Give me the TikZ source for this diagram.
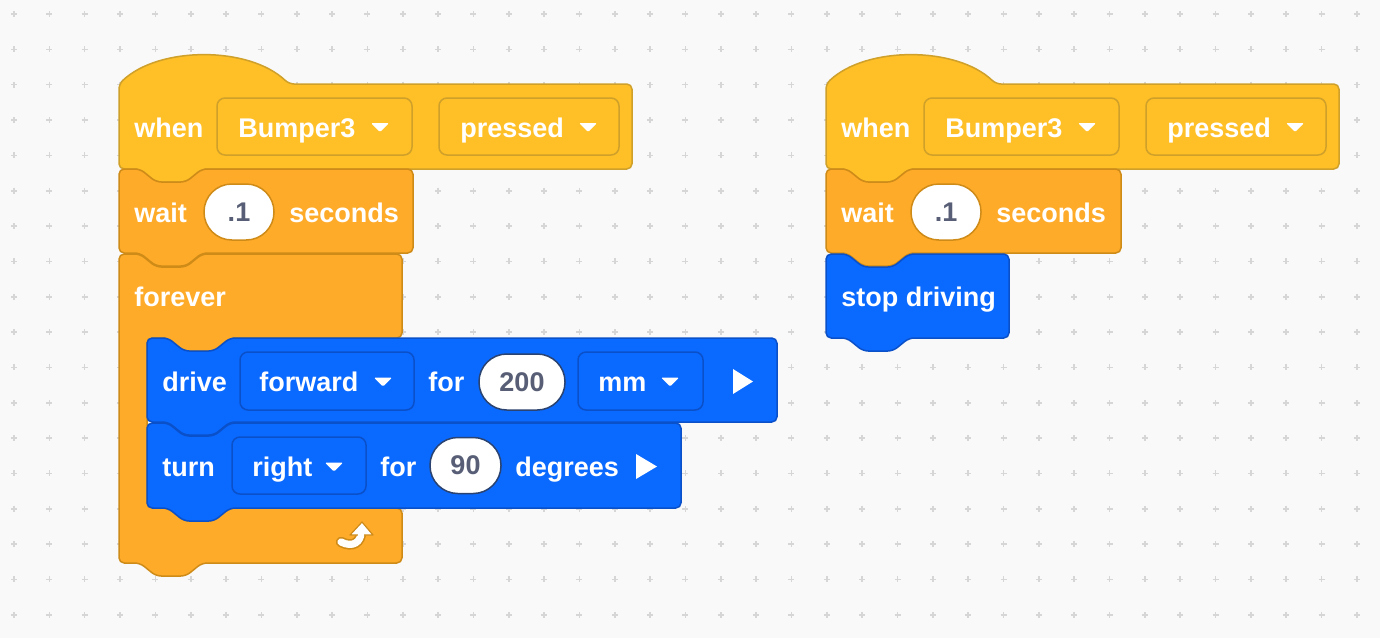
\documentclass[tikz,border=0pt]{standalone}
\usepackage{fontspec}
\setmainfont{Liberation Sans}
\definecolor{bg}{HTML}{F9F9F9}
\definecolor{gridc}{HTML}{D6D6D6}
\definecolor{hatY}{HTML}{FFBF26}
\definecolor{hatB}{HTML}{CFA02A}
\definecolor{ctlO}{HTML}{FFAB2A}
\definecolor{ctlB}{HTML}{CF8B17}
\definecolor{drvB}{HTML}{0A69FF}
\definecolor{drvD}{HTML}{0A50C8}
\definecolor{ovalD}{HTML}{2A4370}
\definecolor{numc}{HTML}{575E75}
\tikzset{
  hatblk/.style={fill=hatY, draw=hatB, line width=0.75pt, rounded corners=2.6pt},
  ctrlblk/.style={fill=ctlO, draw=ctlB, line width=0.75pt, rounded corners=2.6pt},
  drvblk/.style={fill=drvB, draw=drvD, line width=0.75pt, rounded corners=2.6pt},
  lbl/.style={anchor=base west, inner sep=0pt, text=white, font=\fontsize{13.5}{16}\selectfont\bfseries},
  numtxt/.style={text=numc, font=\fontsize{13.5}{16}\selectfont\bfseries},
  ddhat/.style={draw=hatB, fill=hatY, line width=0.75pt, rounded corners=4pt, inner sep=0pt, minimum height=28.5pt},
  dddrv/.style={draw=drvD, fill=drvB, line width=0.75pt, rounded corners=4pt, inner sep=0pt, minimum height=28.5pt},
  ovalc/.style={draw=ctlB, fill=white, line width=0.75pt, rounded corners=13.9pt, inner sep=0pt, minimum height=28pt, numtxt},
  ovald/.style={draw=ovalD, fill=white, line width=0.75pt, rounded corners=13.9pt, inner sep=0pt, minimum height=28pt, numtxt},
  ddarrow/.style={fill=white, rounded corners=0.6pt},
  playtri/.style={fill=white}
}
\newcommand\stackblk[5]{%
  \draw[#1] (#2,{(#3+#5)/2}) -- (#2,#3) -- ({#2+21},#3) -- ({#2+37},{#3+13}) -- ({#2+67},{#3+13}) -- ({#2+83},#3)
    -- (#4,#3) -- (#4,#5) -- ({#2+83},#5) -- ({#2+67},{#5+13}) -- ({#2+37},{#5+13}) -- ({#2+21},#5) -- (#2,#5) -- cycle;}
\newcommand\hatblk[3]{% L, R, B
  \draw[hatblk] (#1,126) -- (#1,84) .. controls ({#1+40},46) and ({#1+130},46) .. ({#1+170},84)
    -- (#2,84) -- (#2,#3) -- ({#1+83},#3) -- ({#1+67},{#3+13}) -- ({#1+37},{#3+13}) -- ({#1+21},#3) -- (#1,#3) -- cycle;}
\newcommand\ddarr[2]{\fill[ddarrow] ({#1-9},{#2-4.5}) -- ({#1+9},{#2-4.5}) -- (#1,{#2+4.5}) -- cycle;}
\begin{document}
\begin{tikzpicture}[x=0.5pt,y=-0.5pt]
\useasboundingbox (0,0) rectangle (1380,638);
\fill[bg] (0,0) rectangle (1380,638);
% grid of plus marks
\foreach \i in {0,...,38}{
  \foreach \j in {0,...,17}{
    \draw[gridc, line width=0.8pt] ({14+35.34*\i-3},{14+35.34*\j}) -- ({14+35.34*\i+3},{14+35.34*\j})
      ({14+35.34*\i},{14+35.34*\j-3}) -- ({14+35.34*\i},{14+35.34*\j+3});
  }
}

% ===== left script =====
\hatblk{119}{632}{169}
\node[ddhat, minimum width=97.5pt] (dd1) at (314.5,126.5) {};
\node[ddhat, minimum width=90pt] (dd2) at (529,126.5) {};
\node[lbl] (t1) at (134,137) {when};
\node[lbl] (t2) at (238,137) {Bumper3};
\ddarr{380}{127.5}
\node[lbl] (t3) at (460,137) {pressed};
\ddarr{588}{127.5}

\stackblk{ctrlblk}{119}{169}{413}{253}
\node[lbl] (t4) at (134,222) {wait};
\node[ovalc, minimum width=35pt] (o1) at (239,212) {.1};
\node[lbl] (t5) at (289,222) {seconds};

% forever C-block
\draw[ctrlblk] (119,400) -- (119,254) -- (140,254) -- (156,267) -- (186,267) -- (202,254) -- (402,254)
  -- (402,338) -- (230,338) -- (214,351) -- (184,351) -- (168,338) -- (147,338)
  -- (147,508) -- (168,508) -- (184,521) -- (214,521) -- (230,508) -- (402,508)
  -- (402,563) -- (202,563) -- (186,576) -- (156,576) -- (140,563) -- (119,563) -- cycle;
\node[lbl] (t6) at (134,306) {forever};
% loop arrow
\draw[ctlB, line width=5.2pt, line cap=round] (341,542) .. controls (353,548) and (361,542) .. (361,532);
\draw[white, line width=3.6pt, line cap=round] (341,542) .. controls (353,548) and (361,542) .. (361,532);
\draw[fill=white, draw=ctlB, line width=0.6pt, line join=round] (350,535) -- (362,522) -- (373,535) -- cycle;
\fill[white] (358,533) rectangle (364,538);

% drive block
\stackblk{drvblk}{147}{338}{777}{422}
\node[lbl] (t7) at (162,391) {drive};
\node[dddrv, minimum width=87pt, minimum height=29pt] (dd3) at (327,381) {};
\node[lbl] (t8) at (259,391) {forward};
\ddarr{383}{382}
\node[lbl] (t9) at (428,391) {for};
\node[ovald, minimum width=43pt] (o2) at (522,382) {200};
\node[dddrv, minimum width=62.5pt, minimum height=29pt] (dd4) at (640.5,381) {};
\node[lbl] (t10) at (598,391) {mm};
\ddarr{670}{382}
\fill[playtri] (733,369) -- (753,381.5) -- (733,394) -- cycle;

% turn block
\stackblk{drvblk}{147}{423}{681}{508}
\node[lbl] (t11) at (162,476) {turn};
\node[dddrv, minimum width=67pt] (dd5) at (299,465.5) {};
\node[lbl] (t12) at (252,476) {right};
\ddarr{334}{467}
\node[lbl] (t13) at (380,476) {for};
\node[ovald, minimum width=35.5pt] (o3) at (465.5,465.5) {90};
\node[lbl] (t14) at (515,476) {degrees};
\fill[playtri] (636,454) -- (657,466.5) -- (636,479) -- cycle;

% ===== right script =====
\hatblk{826}{1339}{169}
\node[ddhat, minimum width=97.5pt] (dd6) at (1021.5,126.5) {};
\node[ddhat, minimum width=90pt] (dd7) at (1236,126.5) {};
\node[lbl] (t15) at (841,137) {when};
\node[lbl] (t16) at (945,137) {Bumper3};
\ddarr{1087}{127.5}
\node[lbl] (t17) at (1167,137) {pressed};
\ddarr{1295}{127.5}

\stackblk{ctrlblk}{826}{169}{1121}{253}
\node[lbl] (t18) at (841,222) {wait};
\node[ovalc, minimum width=35pt] (o4) at (946,212) {.1};
\node[lbl] (t19) at (996,222) {seconds};

\stackblk{drvblk}{826}{254}{1009}{338}
\node[lbl] (t20) at (841,306) {stop driving};
\end{tikzpicture}
\end{document}
